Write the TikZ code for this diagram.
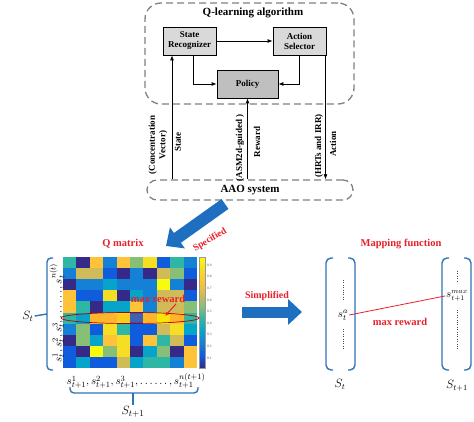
\documentclass[tikz,border=0pt]{standalone}
\usepackage{fontspec}
\setmainfont{Liberation Serif}
\usetikzlibrary{arrows.meta,calc,shapes.geometric}
\definecolor{dgray}{HTML}{808080}
\definecolor{lgray}{HTML}{D9D9D9}
\definecolor{mgray}{HTML}{BFBFBF}
\definecolor{qred}{HTML}{E8202A}
\definecolor{bblue}{HTML}{2E75B6}
\definecolor{abl}{HTML}{1F6FC0}
\definecolor{p0}{HTML}{352A87}
\definecolor{p1}{HTML}{0F5CDD}
\definecolor{p2}{HTML}{1481D6}
\definecolor{p3}{HTML}{06A4CA}
\definecolor{p4}{HTML}{2EB7A4}
\definecolor{p5}{HTML}{87BF77}
\definecolor{p6}{HTML}{D1BB59}
\definecolor{p7}{HTML}{FEC338}
\definecolor{p8}{HTML}{F5DE23}
\definecolor{p9}{HTML}{F9FB0E}
\tikzset{
 dashbox/.style={draw=dgray, dash pattern=on 7pt off 4pt, line width=1.3pt},
 graybox/.style={draw=black, line width=0.8pt, fill=lgray, font=\bfseries\fontsize{9}{10}\selectfont, align=center, minimum width=53pt, minimum height=28pt, inner sep=1pt},
 arr/.style={draw=black, line width=0.8pt, -{Latex[length=5pt,width=4pt]}},
 rot/.style={rotate=90, font=\bfseries\fontsize{9}{10.5}\selectfont, align=center, inner sep=1pt},
 redlab/.style={text=qred, font=\bfseries\fontsize{10.5}{12}\selectfont, inner sep=1pt},
 brk/.style={draw=bblue, line width=1.4pt},
 bigarrow/.style={draw=abl, line width=11pt, -{Triangle[length=14pt,width=25pt]}},
 mathlab/.style={font=\fontsize{11}{12}\selectfont, inner sep=1pt},
 cbtick/.style={font=\fontsize{3.5}{4}\selectfont, text=black!70, inner sep=0pt, anchor=west},
 dotline/.style={draw=black!70, line width=0.8pt, dash pattern=on 0.8pt off 1.6pt},
}
\begin{document}
\begin{tikzpicture}[x=1pt,y=-1pt]
\useasboundingbox (0,0) rectangle (474,422);
% ---------- Q-learning algorithm ----------
\node[dashbox, rounded corners=16pt, minimum width=209pt, minimum height=101pt] (qbox) at (249.5,53.5) {};
\node[font=\bfseries\fontsize{11}{12}\selectfont] (qtitle) at (253,13) {Q-learning algorithm};
\node[graybox] (sr) at (189.5,41) {State\\Recognizer};
\node[graybox] (as) at (299.5,41) {Action\\Selector};
\node[graybox, fill=mgray, minimum width=61pt] (pol) at (247.5,84) {Policy};
\draw[arr] (sr.east) -- (as.west);
\draw[arr] ([xshift=4pt]sr.south) |- (pol.west);
\draw[arr] (as.south) |- (pol.east);
% ---------- AAO system ----------
\node[dashbox, rounded corners=10pt, minimum width=206pt, minimum height=20pt, font=\bfseries\fontsize{11}{12}\selectfont] (aao) at (250,190) {AAO system};
\draw[arr] ([xshift=-17.5pt]sr.south |- aao.north) -- ([xshift=-17.5pt]sr.south);
\draw[arr] (pol.south |- aao.north) -- (pol.south);
\draw[arr] ([xshift=26pt]as.south) -- ([xshift=26pt]as.south |- aao.north);
\node[rot] (cv) at (158,145) {(Concentration\\Vector)};
\node[rot] (stl) at (178,142) {State};
\node[rot] (asm) at (240,148) {(ASM2d-guided )};
\node[rot] (rw) at (257,142) {Reward};
\node[rot] (hrt) at (319,146) {(HRTs and IRR)};
\node[rot] (act) at (333,144) {Action};
% ---------- Specified arrow ----------
\coordinate (spA) at (225,204);
\coordinate (spB) at (166,246);
\draw[bigarrow, line width=12pt] (spA) -- (spB);
\node[redlab, rotate=31, font=\bfseries\fontsize{9.5}{11}\selectfont] (spec) at (210,240) {Specified};
% ---------- Q matrix ----------
\node[redlab] (qm) at (123,244) {Q matrix};
\foreach \row [count=\r from 0] in {
 {4,0,7,2,7,5,8,1,4,2},
 {2,6,6,1,0,2,0,6,5,1},
 {0,2,2,3,2,2,2,9,2,0},
 {7,1,1,8,0,3,2,6,6,1},
 {7,4,0,3,3,7,2,6,6,5},
 {4,3,7,7,8,1,7,9,7,4},
 {2,5,1,8,4,1,1,6,8,3},
 {0,5,3,7,8,1,7,4,6,1},
 {1,0,9,5,8,0,3,5,0,7},
 {1,3,1,1,6,3,4,4,2,7}}{
  \foreach \v [count=\c from 0] in \row {
    \fill[p\v] ({63+13.4*\c},{257+11.1*\r}) rectangle ++(13.45,11.15);
  }
}
\foreach \k [evaluate=\k as \kk using int(\k+1)] in {0,...,8}{
  \shade[bottom color=p\k, top color=p\kk] (199,{368-12.333*\k}) rectangle (205,{368-12.333*(\k+1)});
}
\draw[black!40, line width=0.3pt] (199,257) rectangle (205,368);
\foreach \i in {1,...,9}{
  \node[cbtick] at (207,{358-11.625*(\i-1)}) {0.\i};
}
\fill[orange, opacity=0.2] (90,314) rectangle (186,322);
\node[ellipse, draw=red!70!black, line width=0.7pt, minimum width=138pt, minimum height=11pt, inner sep=0pt] (ell) at (130,318) {};
\node[redlab] (mr1) at (158,299) {max reward};
\coordinate (maxcell) at (165,316);
\draw[qred, line width=1pt, -{Latex[length=4pt,width=3.5pt]}] ([xshift=18pt]mr1.south) -- (maxcell);
% row labels and bracket
\node[mathlab, rotate=90] (rowlab) at (57,313) {$s_t^1,s_t^2,s_t^3,\dots\dots,s_t^{n(t)}$};
\draw[brk, rounded corners=4pt] (53,258) -- (47,258) -- (47,370) -- (53,370);
\coordinate (lbk) at (47,314);
\node[mathlab, font=\fontsize{13}{14}\selectfont] (St) at (28,316) {$S_t$};
\draw[brk] (lbk) -- (St.east);
% column labels and bracket
\node[mathlab] (collab) at (136,381) {$s_{t+1}^1,s_{t+1}^2,s_{t+1}^3,\dots\dots,s_{t+1}^{n(t+1)}$};
\draw[brk, rounded corners=4pt] (70,387) -- (70,393) -- (198,393) -- (198,387);
\coordinate (bbk) at (133,393);
\node[mathlab, font=\fontsize{13}{14}\selectfont] (St1) at (133,412) {$S_{t+1}$};
\draw[brk] (bbk) -- (St1.north);
% ---------- Simplified arrow ----------
\node[redlab, font=\bfseries\fontsize{10}{12}\selectfont] (simp) at (267,296) {Simplified};
\coordinate (siA) at (242,312);
\coordinate (siB) at (302,312);
\draw[bigarrow] (siA) -- (siB);
% ---------- Mapping function ----------
\node[redlab] (mf) at (401,244) {Mapping function};
\draw[brk, rounded corners=5pt] (333,258) -- (326,258) -- (326,370) -- (333,370);
\draw[brk, rounded corners=5pt] (348,258) -- (355,258) -- (355,370) -- (348,370);
\draw[brk, rounded corners=5pt] (449,258) -- (442,258) -- (442,370) -- (449,370);
\draw[brk, rounded corners=5pt] (464,258) -- (471,258) -- (471,370) -- (464,370);
\node[mathlab] (sta) at (343,315) {$s_t^a$};
\node[mathlab, font=\fontsize{10.5}{12}\selectfont] (smax) at (457,296) {$s_{t+1}^{max}$};
\draw[dotline] (343,280) -- (343,301);
\draw[dotline] (343,329) -- (343,349);
\draw[dotline] (457,271) -- (457,281);
\draw[dotline] (457,310) -- (457,349);
\draw[qred, line width=0.8pt] (sta.east) -- (smax.west);
\node[redlab] (mr2) at (400,322) {max reward};
\node[mathlab, font=\fontsize{12}{14}\selectfont] (Stm) at (340,384) {$S_t$};
\node[mathlab, font=\fontsize{12}{14}\selectfont] (St1m) at (457,386) {$S_{t+1}$};
\end{tikzpicture}
\end{document}
